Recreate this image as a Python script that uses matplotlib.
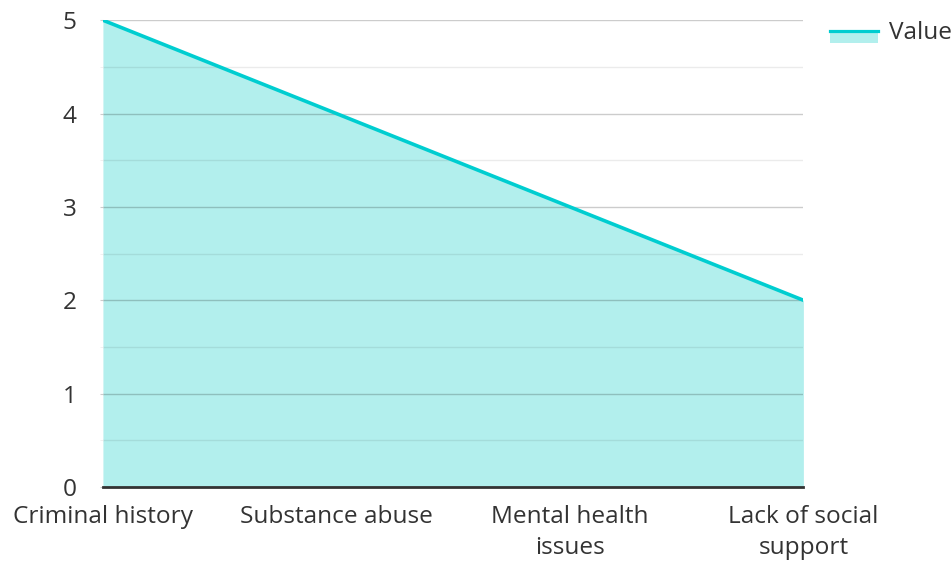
import matplotlib.pyplot as plt
from matplotlib.legend_handler import HandlerBase
from matplotlib.patches import Rectangle
from matplotlib.lines import Line2D

categories = ['Criminal history', 'Substance abuse', 'Mental health\nissues', 'Lack of social\nsupport']
values = [5, 4, 3, 2]

plt.rcParams['font.family'] = ['Open Sans', 'DejaVu Sans']

line_color = '#00cdd0'
fill_color = '#b2efed'
fs = 17.6


class AreaHandler(HandlerBase):
    def create_artists(self, legend, orig_handle, xdescent, ydescent, width, height, fontsize, trans):
        mid = height / 2 - ydescent
        rect = Rectangle((-xdescent, mid - 8.6), width, 8.6, facecolor=fill_color,
                         edgecolor='none', transform=trans)
        ln = Line2D([-xdescent, -xdescent + width], [mid, mid],
                    color=line_color, lw=2.3, transform=trans)
        return [rect, ln]


fig = plt.figure(figsize=(9.53, 5.61), dpi=100)
ax = fig.add_axes([0.108, 0.132, 0.735, 0.832])

x = list(range(len(categories)))
ax.fill_between(x, values, 0, color=fill_color, lw=0, zorder=1)
ax.plot(x, values, color=line_color, lw=2.6, zorder=3, solid_capstyle='round')

ax.set_xlim(0, 3)
ax.set_ylim(0, 5)
ax.set_yticks([0, 1, 2, 3, 4, 5])
ax.set_yticks([0.5, 1.5, 2.5, 3.5, 4.5], minor=True)
ax.grid(axis='y', which='major', color='#000000', alpha=0.2, lw=1, zorder=2)
ax.grid(axis='y', which='minor', color='#000000', alpha=0.08, lw=1, zorder=2)
ax.set_axisbelow(False)

ax.set_xticks(x)
ax.set_xticklabels(categories, linespacing=1.4)
ax.tick_params(axis='x', length=0, pad=13, labelsize=fs, labelcolor='#333333')
ax.tick_params(axis='y', which='major', length=2, color='#cccccc', pad=17, labelsize=fs, labelcolor='#333333')
ax.tick_params(axis='y', which='minor', length=2, color='#eeeeee')

for s in ['top', 'right', 'left']:
    ax.spines[s].set_visible(False)
ax.spines['bottom'].set_color('#333333')
ax.spines['bottom'].set_linewidth(2)
ax.spines['bottom'].set_zorder(4)

fig.legend([object()], ['Value'], handler_map={object: AreaHandler()},
           loc='upper left', bbox_to_anchor=(0.871, 0.963), frameon=False,
           fontsize=fs, handlelength=1.95, handleheight=0.9, handletextpad=0.45,
           borderpad=0, borderaxespad=0, labelcolor='#333333')

fig.savefig('out.png', dpi=100)
